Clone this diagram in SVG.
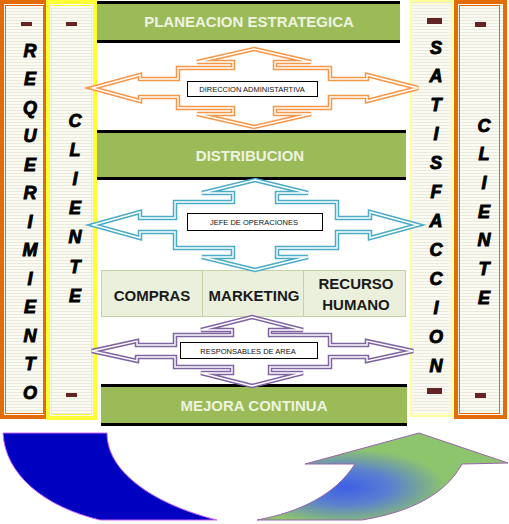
<svg xmlns="http://www.w3.org/2000/svg" width="509" height="524" viewBox="0 0 509 524">
<defs>
<pattern id="stripe" width="4" height="3" patternUnits="userSpaceOnUse"><rect width="4" height="3" fill="#FBFBF3"/><rect y="2" width="4" height="1" fill="#EAEADC"/></pattern>
<radialGradient id="grad" gradientUnits="userSpaceOnUse" cx="345" cy="487" r="100" gradientTransform="translate(345 487) scale(1 0.38) translate(-345 -487)">
<stop offset="0" stop-color="#3D5FE6"/><stop offset="0.45" stop-color="#5A7FD0"/><stop offset="1" stop-color="#8DC46E"/>
</radialGradient>
<style>
.v{font-family:"Liberation Sans",Arial,sans-serif;font-weight:bold;font-style:italic;font-size:18px;text-anchor:middle;fill:#000;stroke:#000;stroke-width:0.9}
.g{font-family:"Liberation Sans",Arial,sans-serif;font-weight:bold;font-size:15px;text-anchor:middle;fill:#EEF3E0}
.t{font-family:"Liberation Sans",Arial,sans-serif;font-weight:bold;font-size:15px;text-anchor:middle;fill:#1A1A1A}
.s{font-family:"Liberation Sans",Arial,sans-serif;font-size:7.5px;text-anchor:middle;fill:#111}
.dash{fill:#632423}
.bar{fill:#9BBB59}
.line{fill:#000}
.box{fill:#fff;stroke:#000;stroke-width:1}
.cell{fill:#EAF0DC;stroke:#C4D3A4;stroke-width:1}
.wh{fill:none;stroke:#fff;stroke-width:1.4;stroke-linejoin:miter}
</style>
</defs>
<rect width="509" height="524" fill="#fff"/>

<g id="col-requerimiento">
<rect x="0" y="0" width="46" height="419" fill="url(#stripe)"/>
<rect x="2" y="2" width="44" height="415" fill="none" stroke="#E36C09" stroke-width="4"/>
<rect x="5.5" y="5.5" width="38" height="408" fill="none" stroke="#E36C09" stroke-width="1"/>
<rect class="dash" x="21" y="22" width="11" height="4"/>
<text class="v" x="30" y="56.5">R</text>
<text class="v" x="30" y="85">E</text>
<text class="v" x="30" y="113.5">Q</text>
<text class="v" x="30" y="142">U</text>
<text class="v" x="30" y="170.5">E</text>
<text class="v" x="30" y="199">R</text>
<text class="v" x="30" y="227.5">I</text>
<text class="v" x="30" y="256">M</text>
<text class="v" x="30" y="284.5">I</text>
<text class="v" x="30" y="313">E</text>
<text class="v" x="30" y="341.5">N</text>
<text class="v" x="30" y="370">T</text>
<text class="v" x="30" y="398.5">O</text>
</g>

<g id="col-cliente-left">
<rect x="46" y="0" width="51" height="420" fill="url(#stripe)"/>
<rect x="48" y="2" width="47" height="416" fill="none" stroke="#FFFF33" stroke-width="4"/>
<rect x="51.5" y="5.5" width="40" height="409" fill="none" stroke="#FFFF33" stroke-width="1"/>
<rect class="dash" x="66" y="22" width="11" height="4"/>
<rect class="dash" x="66" y="393" width="11" height="4"/>
<text class="v" x="75" y="126.5">C</text>
<text class="v" x="75" y="155.7">L</text>
<text class="v" x="75" y="184.9">I</text>
<text class="v" x="75" y="214.1">E</text>
<text class="v" x="75" y="243.3">N</text>
<text class="v" x="75" y="272.5">T</text>
<text class="v" x="75" y="301.5">E</text>
</g>

<g id="col-satisfaccion">
<rect x="410" y="0" width="43" height="417" fill="url(#stripe)"/>
<rect x="411" y="1" width="41" height="415" fill="none" stroke="#FFFF99" stroke-width="2"/>
<rect x="413.5" y="3.5" width="36" height="410" fill="none" stroke="#FFFFB0" stroke-width="1"/>
<rect class="dash" x="427" y="18" width="15" height="6"/>
<rect class="dash" x="427" y="388" width="15" height="6"/>
<text class="v" x="436" y="53.5">S</text>
<text class="v" x="436" y="82.4">A</text>
<text class="v" x="436" y="111.3">T</text>
<text class="v" x="436" y="140.2">I</text>
<text class="v" x="436" y="169.1">S</text>
<text class="v" x="436" y="198">F</text>
<text class="v" x="436" y="226.9">A</text>
<text class="v" x="436" y="255.8">C</text>
<text class="v" x="436" y="284.7">C</text>
<text class="v" x="436" y="313.6">I</text>
<text class="v" x="436" y="342.5">O</text>
<text class="v" x="436" y="371.5">N</text>
</g>

<g id="col-cliente-right">
<rect x="454" y="0" width="53" height="419" fill="url(#stripe)"/>
<rect x="456" y="2" width="49" height="415" fill="none" stroke="#E36C09" stroke-width="4"/>
<rect x="459.5" y="5.5" width="40" height="408" fill="none" stroke="#E36C09" stroke-width="1"/>
<rect class="dash" x="475" y="22" width="11" height="5"/>
<rect class="dash" x="475" y="393" width="11" height="5"/>
<text class="v" x="484" y="131.5">C</text>
<text class="v" x="484" y="160.2">L</text>
<text class="v" x="484" y="188.9">I</text>
<text class="v" x="484" y="217.6">E</text>
<text class="v" x="484" y="246.3">N</text>
<text class="v" x="484" y="275">T</text>
<text class="v" x="484" y="303.5">E</text>
</g>

<g id="planeacion">
<rect class="line" x="97" y="1" width="303" height="3"/>
<rect class="bar" x="97" y="4" width="303" height="36"/>
<rect class="line" x="97" y="40" width="303" height="3"/>
<text class="g" x="249" y="27">PLANEACION ESTRATEGICA</text>
</g>

<g id="distribucion">
<rect class="line" x="97" y="130" width="309" height="3"/>
<rect class="bar" x="97" y="133" width="309" height="44"/>
<rect class="line" x="97" y="177" width="309" height="3"/>
<text class="g" x="250" y="161">DISTRIBUCION</text>
</g>

<g id="areas">
<rect class="cell" x="101.5" y="270.5" width="101" height="46"/>
<rect class="cell" x="202.5" y="270.5" width="101" height="46"/>
<rect class="cell" x="303.5" y="270.5" width="102" height="46"/>
<text class="t" x="152" y="301">COMPRAS</text>
<text class="t" x="254" y="301">MARKETING</text>
<text class="t" x="356" y="289">RECURSO</text>
<text class="t" x="356" y="310">HUMANO</text>
</g>

<g id="mejora">
<rect class="line" x="101" y="384" width="306" height="3"/>
<rect class="bar" x="101" y="387" width="306" height="36"/>
<rect class="line" x="101" y="423" width="306" height="3"/>
<text class="g" x="254" y="411">MEJORA CONTINUA</text>
</g>

<g id="connectors">
<g id="arrow-direccion">
<path d="M254,49 L311,62 L275,62 L275,68 L330,68 L330,79 L367,79 L367,75 L418,88 L367,101 L367,97 L330,97 L330,108 L275,108 L275,114 L311,114 L254,127 L197,114 L233,114 L233,108 L178,108 L178,97 L140,97 L140,101 L92,88 L140,75 L140,79 L178,79 L178,68 L233,68 L233,62 L197,62 Z" fill="#fff" stroke="#F79646" stroke-width="4.5" stroke-linejoin="miter"/>
<path class="wh" d="M254,49 L311,62 L275,62 L275,68 L330,68 L330,79 L367,79 L367,75 L418,88 L367,101 L367,97 L330,97 L330,108 L275,108 L275,114 L311,114 L254,127 L197,114 L233,114 L233,108 L178,108 L178,97 L140,97 L140,101 L92,88 L140,75 L140,79 L178,79 L178,68 L233,68 L233,62 L197,62 Z"/>
</g>
<g id="arrow-jefe">
<path d="M255,180 L308,193 L277,193 L277,202 L337,202 L337,218 L370,218 L370,212 L418,225 L370,238 L370,232 L337,232 L337,248 L277,248 L277,257 L308,257 L255,270 L202,257 L233,257 L233,248 L175,248 L175,232 L140,232 L140,238 L93,225 L140,212 L140,218 L175,218 L175,202 L233,202 L233,193 L202,193 Z" fill="#fff" stroke="#4BACC6" stroke-width="4.5" stroke-linejoin="miter"/>
<path class="wh" d="M255,180 L308,193 L277,193 L277,202 L337,202 L337,218 L370,218 L370,212 L418,225 L370,238 L370,232 L337,232 L337,248 L277,248 L277,257 L308,257 L255,270 L202,257 L233,257 L233,248 L175,248 L175,232 L140,232 L140,238 L93,225 L140,212 L140,218 L175,218 L175,202 L233,202 L233,193 L202,193 Z"/>
</g>
<g id="arrow-responsables">
<path d="M252,317 L303,330 L270,330 L270,335 L330,335 L330,345 L367,345 L367,341 L413,351 L367,361 L367,357 L330,357 L330,367 L270,367 L270,373 L303,373 L252,386 L201,373 L232,373 L232,367 L175,367 L175,357 L137,357 L137,361 L92,351 L137,341 L137,345 L175,345 L175,335 L232,335 L232,330 L201,330 Z" fill="#fff" stroke="#8064A2" stroke-width="4.5" stroke-linejoin="miter"/>
<path class="wh" d="M252,317 L303,330 L270,330 L270,335 L330,335 L330,345 L367,345 L367,341 L413,351 L367,361 L367,357 L330,357 L330,367 L270,367 L270,373 L303,373 L252,386 L201,373 L232,373 L232,367 L175,367 L175,357 L137,357 L137,361 L92,351 L137,341 L137,345 L175,345 L175,335 L232,335 L232,330 L201,330 Z"/>
</g>
<path id="curve-left" d="M3,433 L107,433 C107,475 160,506 217,520 L100,520 C45,507 5,475 3,433 Z" fill="#0000C0" stroke="#CC66FF" stroke-width="1"/>
<path id="curve-right" d="M419,433 L508,463 L462,464 C445,495 410,512 362,520 L257,520 C300,512 335,495 355,464 L305,464 Z" fill="url(#grad)" stroke="#9966AA" stroke-width="1"/>
</g>

<g id="box-direccion">
<rect class="box" x="187.5" y="81.5" width="130" height="15"/>
<text class="s" x="252" y="92">DIRECCION ADMINISTARTIVA</text>
</g>
<g id="box-jefe">
<rect class="box" x="187.5" y="213.5" width="135" height="17"/>
<text class="s" x="254" y="225">JEFE DE OPERACIONES</text>
</g>
<g id="box-responsables">
<rect class="box" x="180.5" y="342.5" width="137" height="16"/>
<text class="s" x="248" y="353.5">RESPONSABLES DE AREA</text>
</g>
</svg>
